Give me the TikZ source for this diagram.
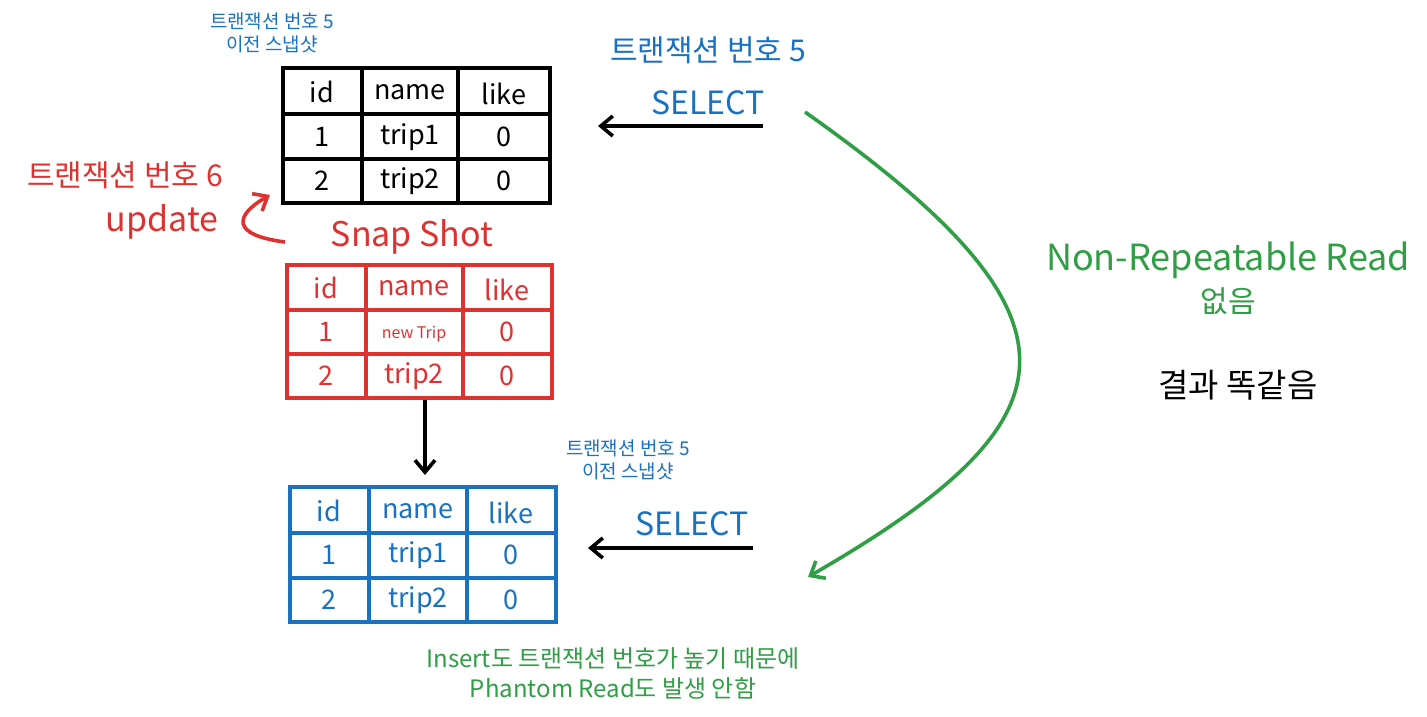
\documentclass[tikz,border=0pt]{standalone}
\usepackage{fontspec}
\setmainfont{Noto Sans CJK KR}
\usetikzlibrary{arrows.meta}
\definecolor{cb}{HTML}{1971C2}
\definecolor{cr}{HTML}{E03131}
\definecolor{cg}{HTML}{2F9E44}
\begin{document}
\begin{tikzpicture}[x=1pt,y=-1pt,
  tab/.style={line width=3.6pt},
  arr/.style={line width=3.6pt,-{Straight Barb[length=12pt,width=20pt]}},
  t/.style={inner sep=0pt,font=\fontsize{27}{29}\selectfont},
  s/.style={inner sep=0pt,font=\fontsize{19}{23}\selectfont,align=center,text=cb}]
\useasboundingbox (0,0) rectangle (1427,716);
% black table
\draw[tab] (283,68) rectangle (550,203);
\draw[tab] (283,114)--(550,114) (283,159)--(550,159) (362,68)--(362,203) (458,68)--(458,203);
\node[t] (a1) at (322,92) {id}; \node[t] (a2) at (410,92) {name}; \node[t] (a3) at (504,94) {like};
\node[t] (a4) at (322,137) {1}; \node[t] (a5) at (410,137) {trip1}; \node[t] (a6) at (504,137) {0};
\node[t] (a7) at (322,181) {2}; \node[t] (a8) at (410,181) {trip2}; \node[t] (a9) at (504,181) {0};
% red table
\begin{scope}[cr, every node/.append style={text=cr}]
\draw[tab] (287,265) rectangle (552,398);
\draw[tab] (287,310)--(552,310) (287,354)--(552,354) (366,265)--(366,398) (463,265)--(463,398);
\node[t] (b1) at (326,288) {id}; \node[t] (b2) at (414,288) {name}; \node[t] (b3) at (507,290) {like};
\node[t] (b4) at (326,332) {1}; \node[t,font=\fontsize{16}{18}\selectfont] (b5) at (414,334) {new Trip}; \node[t] (b6) at (507,332) {0};
\node[t] (b7) at (326,376) {2}; \node[t] (b8) at (414,376) {trip2}; \node[t] (b9) at (507,376) {0};
\end{scope}
% blue table
\begin{scope}[cb, every node/.append style={text=cb}]
\draw[tab] (290,487) rectangle (556,622);
\draw[tab] (290,533)--(556,533) (290,578)--(556,578) (369,487)--(369,622) (467,487)--(467,622);
\node[t] (c1) at (329,511) {id}; \node[t] (c2) at (418,511) {name}; \node[t] (c3) at (511,513) {like};
\node[t] (c4) at (329,555) {1}; \node[t] (c5) at (418,555) {trip1}; \node[t] (c6) at (511,555) {0};
\node[t] (c7) at (329,600) {2}; \node[t] (c8) at (418,600) {trip2}; \node[t] (c9) at (511,600) {0};
\end{scope}
% labels
\node[s] (l1) at (272,33) {트랜잭션 번호 5\\이전 스냅샷};
\node[s] (l2) at (628,460) {트랜잭션 번호 5\\이전 스냅샷};
\node[inner sep=0pt,text=cb,font=\fontsize{30}{32}\selectfont] (tx5) at (708,50) {트랜잭션 번호 5};
\node[inner sep=0pt,text=cb,font=\fontsize{32}{34}\selectfont] (sel1) at (708,103) {SELECT};
\node[inner sep=0pt,text=cb,font=\fontsize{32}{34}\selectfont] (sel2) at (692,524) {SELECT};
\node[inner sep=0pt,text=cr,font=\fontsize{30}{32}\selectfont] (tx6) at (125,175) {트랜잭션 번호 6};
\node[inner sep=0pt,text=cr,font=\fontsize{34}{36}\selectfont] (upd) at (162,222) {update};
\node[inner sep=0pt,text=cr,font=\fontsize{34}{36}\selectfont] (snap) at (412,237) {Snap Shot};
\node[inner sep=0pt,text=cg,font=\fontsize{36}{38}\selectfont] (nr) at (1228,260) {Non-Repeatable Read};
\node[inner sep=0pt,text=cg,font=\fontsize{30}{32}\selectfont] (no) at (1228,301) {없음};
\node[inner sep=0pt,font=\fontsize{33}{35}\selectfont] (same) at (1238,385) {결과 똑같음};
\node[inner sep=0pt,text=cg,font=\fontsize{24}{26}\selectfont] (b1t) at (613,658) {Insert도 트랜잭션 번호가 높기 때문에};
\node[inner sep=0pt,text=cg,font=\fontsize{24}{26}\selectfont] (b2t) at (613,688) {Phantom Read도 발생 안함};
% arrows
\coordinate (s1) at (763,126); \coordinate (e1) at (598,126);
\draw[arr] (s1)--(e1);
\coordinate (s2) at (753,548); \coordinate (e2) at (588,548);
\draw[arr] (s2)--(e2);
\coordinate (s3) at (425,400); \coordinate (e3) at (425,475);
\draw[arr] (s3)--(e3);
\coordinate (s4) at (285,242); \coordinate (e4) at (270,195);
\draw[arr,cr] (s4) .. controls (230,235) and (235,215) .. (e4);
\coordinate (s5) at (805,112); \coordinate (e5) at (808,577);
\draw[arr,cg] (s5) .. controls (1100,320) and (1080,420) .. (e5);
\end{tikzpicture}
\end{document}
